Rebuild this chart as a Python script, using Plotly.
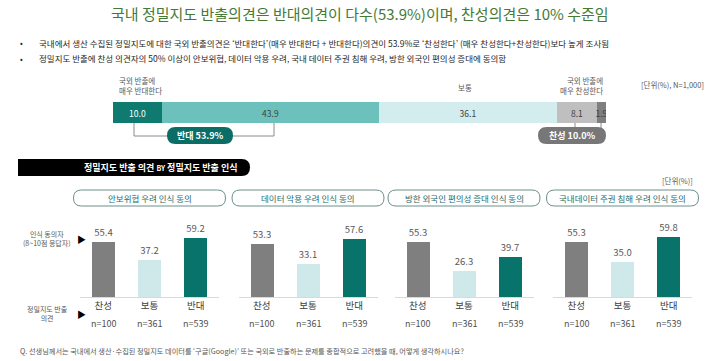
import plotly.graph_objects as go

W, H = 720, 361
FONT = "Noto Sans CJK KR"

# ---------------- data ----------------
top_labels = ["국외 반출에 매우 반대한다", "반대한다", "보통", "찬성한다", "국외 반출에 매우 찬성한다"]
top_values = [10.0, 43.9, 36.1, 8.1, 1.9]
top_colors = ["#0e7a70", "#6cc1bc", "#d3ecee", "#bfbfbf", "#7f7f7f"]
top_text_colors = ["#ffffff", "#404040", "#404040", "#404040", "#404040"]

groups = ["찬성", "보통", "반대"]
group_n = ["n=100", "n=361", "n=539"]
group_colors = ["#7f7f7f", "#cfe9eb", "#08736a"]

panel_titles = ["안보위협 우려 인식 동의", "데이터 악용 우려 인식 동의",
                "방한 외국인 편의성 증대 인식 동의", "국내데이터 주권 침해 우려 인식 동의"]
panel_values = [
    [55.4, 37.2, 59.2],
    [53.3, 33.1, 57.6],
    [55.3, 26.3, 39.7],
    [55.3, 35.0, 59.8],
]

# ---------------- helpers (window pixels -> paper) ----------------
def X(px):
    return px / W

def Y(py):
    return 1 - py / H

def rpath(x0, y0, x1, y1, r, left_round=True, right_round=True):
    pts = []
    pts.append(f"M{X(x0 + r) if left_round else X(x0)},{Y(y0)}")
    if right_round:
        pts.append(f"L{X(x1 - r)},{Y(y0)}")
        pts.append(f"Q{X(x1)},{Y(y0)} {X(x1)},{Y(y0 + r)}")
        pts.append(f"L{X(x1)},{Y(y1 - r)}")
        pts.append(f"Q{X(x1)},{Y(y1)} {X(x1 - r)},{Y(y1)}")
    else:
        pts.append(f"L{X(x1)},{Y(y0)}")
        pts.append(f"L{X(x1)},{Y(y1)}")
    if left_round:
        pts.append(f"L{X(x0 + r)},{Y(y1)}")
        pts.append(f"Q{X(x0)},{Y(y1)} {X(x0)},{Y(y1 - r)}")
        pts.append(f"L{X(x0)},{Y(y0 + r)}")
        pts.append(f"Q{X(x0)},{Y(y0)} {X(x0 + r)},{Y(y0)}")
    else:
        pts.append(f"L{X(x0)},{Y(y1)}")
        pts.append(f"L{X(x0)},{Y(y0)}")
    pts.append("Z")
    return " ".join(pts)

fig = go.Figure()
shapes = []
ann = []

# ---------------- top stacked bar ----------------
for i, (lab, v) in enumerate(zip(top_labels, top_values)):
    fig.add_trace(go.Bar(
        x=[v], y=["전체"], orientation="h", name=lab,
        marker=dict(color=top_colors[i], line=dict(width=0)),
        text=[f"{v:.1f}"], textposition="inside", insidetextanchor="middle",
        constraintext="none", textangle=0,
        textfont=dict(family=FONT, size=8.5, color=top_text_colors[i]),
        xaxis="x5", yaxis="y5", width=1, showlegend=False, hoverinfo="skip",
    ))

# ---------------- panel bars ----------------
pdom = [(80, 219), (238.5, 377.5), (394.5, 533.5), (553, 692)]
for p in range(4):
    ax = "" if p == 0 else str(p + 1)
    fig.add_trace(go.Bar(
        x=[0, 1, 2], y=panel_values[p],
        marker=dict(color=group_colors, line=dict(width=0)),
        width=0.5,
        text=[f"{v:.1f}" for v in panel_values[p]],
        textposition="outside", cliponaxis=False,
        textfont=dict(family=FONT, size=9.5, color="#595959"),
        xaxis="x" + ax, yaxis="y" + ax, showlegend=False, hoverinfo="skip",
    ))

layout = dict(
    width=W, height=H, margin=dict(l=0, r=0, t=0, b=0),
    paper_bgcolor="white", plot_bgcolor="rgba(0,0,0,0)",
    barmode="stack", bargap=0,
    font=dict(family=FONT, color="#404040"),
    xaxis5=dict(domain=[X(113), X(606)], range=[0, 100], visible=False, fixedrange=True),
    yaxis5=dict(domain=[Y(123), Y(102)], visible=False, fixedrange=True, anchor="x5"),
)
for p in range(4):
    ax = "" if p == 0 else str(p + 1)
    layout["xaxis" + ax] = dict(
        domain=[X(pdom[p][0]), X(pdom[p][1])], range=[-0.5, 2.5],
        tickmode="array", tickvals=[0, 1, 2], ticktext=groups,
        tickfont=dict(family=FONT, size=9.5, color="#404040"),
        showline=True, linecolor="#d9d9d9", linewidth=1,
        showgrid=False, zeroline=False, ticks="", anchor="y" + ax, fixedrange=True,
    )
    layout["yaxis" + ax] = dict(
        domain=[Y(297), Y(227)], range=[0, 70], visible=False,
        anchor="x" + ax, fixedrange=True,
    )
    for k in range(3):
        ann.append(dict(x=k, y=Y(323), xref="x" + ax, yref="paper",
                        text=group_n[k], showarrow=False,
                        font=dict(family=FONT, size=9, color="#505050")))
    cx = (pdom[p][0] + pdom[p][1]) / 2
    x0, x1 = cx - 76, cx + 76
    shapes.append(dict(type="path", path=rpath(x0, 190, x1, 206, 8),
                       xref="paper", yref="paper", layer="below",
                       line=dict(color="#6a8f8c", width=1), fillcolor="white"))
    ann.append(dict(x=X(cx), y=Y(198), xref="paper", yref="paper",
                    text=panel_titles[p], showarrow=False,
                    font=dict(family=FONT, size=8.5, color="#2b6b66")))

# ---------------- title & bullets ----------------
ann.append(dict(x=X(360), y=Y(14), xref="paper", yref="paper",
                text="국내 정밀지도 반출의견은 반대의견이 다수(53.9%)이며, 찬성의견은 10% 수준임",
                showarrow=False, font=dict(family=FONT, size=15, color="#457a35")))
bullets = [
    "국내에서 생산 수집된 정밀지도에 대한 국외 반출의견은 ‘반대한다’(매우 반대한다 + 반대한다)의견이 53.9%로 ‘찬성한다’ (매우 찬성한다+찬성한다)보다 높게 조사됨",
    "정밀지도 반출에 찬성 의견자의 50% 이상이 안보위협, 데이터 악용 우려, 국내 데이터 주권 침해 우려, 방한 외국인 편의성 증대에 동의함",
]
for i, b in enumerate(bullets):
    yy = 43 + 15 * i
    ann.append(dict(x=X(21), y=Y(yy), xref="paper", yref="paper", text="•",
                    showarrow=False,
                    font=dict(family=FONT, size=8, color="#262626")))
    ann.append(dict(x=X(37), y=Y(yy), xref="paper", yref="paper", text=b,
                    showarrow=False, xanchor="left",
                    font=dict(family=FONT, size=8.5, color="#262626")))

ann.append(dict(x=X(117), y=Y(86), xref="paper", yref="paper",
                text="국외 반출에<br>매우 반대한다", showarrow=False, xanchor="left", align="left",
                font=dict(family=FONT, size=7.5, color="#595959")))
ann.append(dict(x=X(465), y=Y(87), xref="paper", yref="paper",
                text="보통", showarrow=False,
                font=dict(family=FONT, size=7.5, color="#595959")))
ann.append(dict(x=X(605), y=Y(86), xref="paper", yref="paper",
                text="국외 반출에<br>매우 찬성한다", showarrow=False, xanchor="right", align="right",
                font=dict(family=FONT, size=7.5, color="#595959")))
ann.append(dict(x=X(706), y=Y(84), xref="paper", yref="paper",
                text="[단위(%), N=1,000]", showarrow=False, xanchor="right",
                font=dict(family=FONT, size=7.5, color="#595959")))

for seg in [
    (134, 123, 134, 136), (134, 136, 170, 136),
    (274, 123, 274, 136), (230, 136, 274, 136),
    (575, 123, 575, 128), (601, 123, 601, 128),
]:
    shapes.append(dict(type="line", x0=X(seg[0]), y0=Y(seg[1]), x1=X(seg[2]), y1=Y(seg[3]),
                       xref="paper", yref="paper", line=dict(color="#8c8c8c", width=1)))
shapes.append(dict(type="path", path=rpath(167, 127, 233, 144, 8.5), xref="paper", yref="paper",
                   line=dict(width=0), fillcolor="#0b6e66"))
shapes.append(dict(type="path", path=rpath(538, 127, 606, 144, 8.5), xref="paper", yref="paper",
                   line=dict(width=0), fillcolor="#777777"))
ann.append(dict(x=X(200), y=Y(135.5), xref="paper", yref="paper", text="<b>반대 53.9%</b>",
                showarrow=False, font=dict(family=FONT, size=9, color="white")))
ann.append(dict(x=X(572), y=Y(135.5), xref="paper", yref="paper", text="<b>찬성 10.0%</b>",
                showarrow=False, font=dict(family=FONT, size=9, color="white")))

shapes.append(dict(type="path", path=rpath(18, 159, 250, 176, 8.5, left_round=False),
                   xref="paper", yref="paper", line=dict(width=0), fillcolor="#000000"))
ann.append(dict(x=X(160), y=Y(167.5), xref="paper", yref="paper",
                text="<b>정밀지도 반출 의견 <span style='font-size:7px'>BY</span> 정밀지도 반출 인식</b>",
                showarrow=False, font=dict(family=FONT, size=9, color="white")))
ann.append(dict(x=X(695), y=Y(180), xref="paper", yref="paper",
                text="[단위(%)]", showarrow=False, xanchor="right",
                font=dict(family=FONT, size=7.5, color="#595959")))

ann.append(dict(x=X(47), y=Y(238), xref="paper", yref="paper",
                text="인식 동의자<br>(8~10점 응답자)", showarrow=False,
                font=dict(family=FONT, size=7, color="#595959")))
ann.append(dict(x=X(47), y=Y(313), xref="paper", yref="paper",
                text="정밀지도 반출<br>의견", showarrow=False,
                font=dict(family=FONT, size=7, color="#595959")))
for yy in (239, 314):
    ann.append(dict(x=X(81), y=Y(yy), xref="paper", yref="paper", text="▶",
                    showarrow=False, font=dict(family=FONT, size=9, color="#000000")))

ann.append(dict(x=X(18), y=Y(351), xref="paper", yref="paper", xanchor="left",
                text="Q. 선생님께서는 국내에서 생산·수집된 정밀지도 데이터를 ‘구글(Google)’ 또는 국외로 반출하는 문제를 종합적으로 고려했을 때, 어떻게 생각하시나요?",
                showarrow=False, font=dict(family=FONT, size=7.2, color="#595959")))

for a in ann:
    a.setdefault("xanchor", "center")
    a.setdefault("yanchor", "middle")

layout["shapes"] = shapes
layout["annotations"] = ann
fig.update_layout(**layout)
fig.write_html("out.html", config={"displayModeBar": False},
               post_script="document.body.style.margin='0';")
